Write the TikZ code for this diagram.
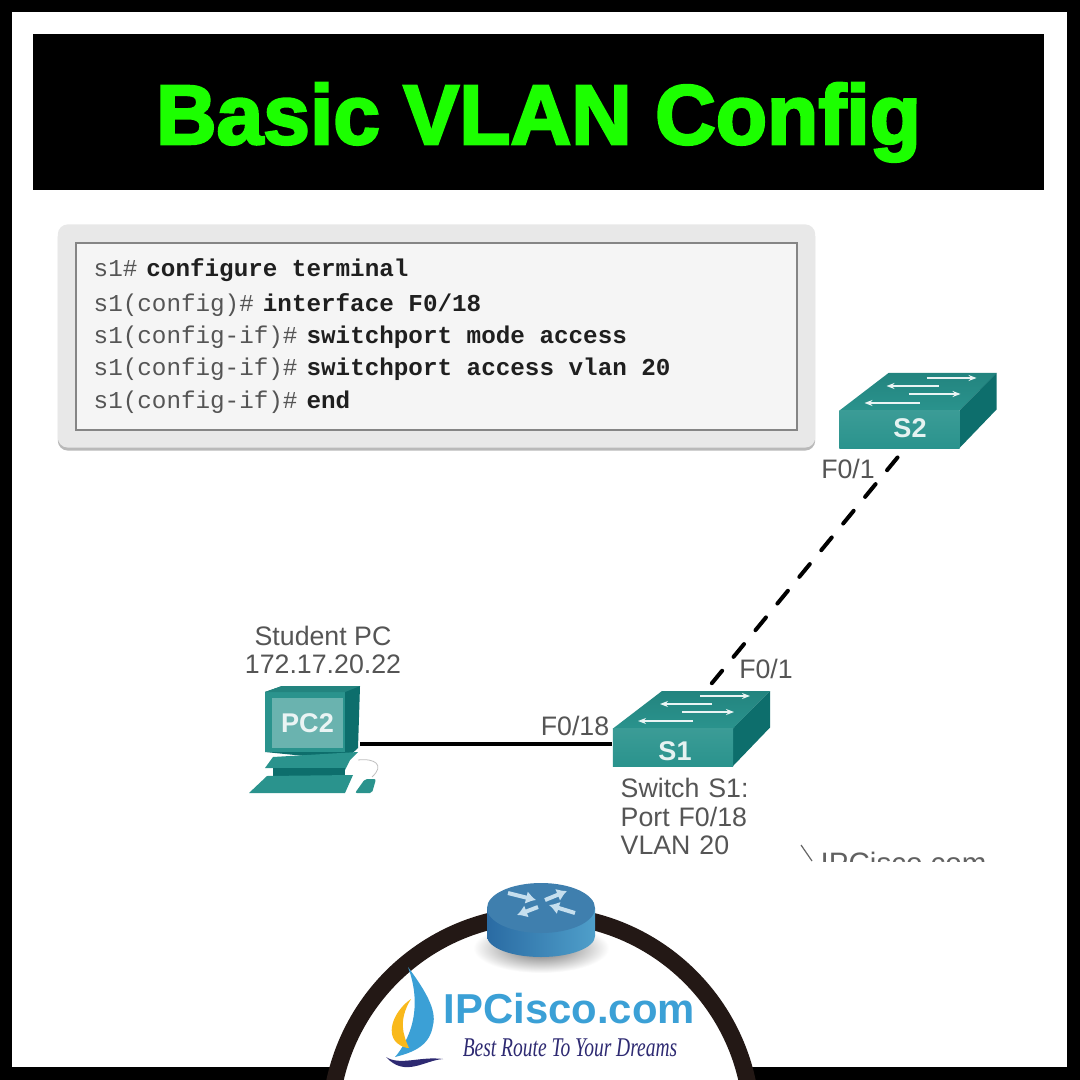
\documentclass[tikz,border=0pt]{standalone}
\usepackage{fontspec}
\setmainfont{Liberation Sans}
\newfontfamily\titlefont[FakeBold=3,FakeStretch=0.995]{Liberation Sans}
\newfontfamily\consolefont{Liberation Mono}
\newfontfamily\sloganfont[FakeStretch=0.72]{Liberation Serif}
\usetikzlibrary{arrows.meta,shadows}
\definecolor{titlegreen}{HTML}{1CFF00}
\definecolor{tealfront}{HTML}{2A938D}
\definecolor{tealtop}{HTML}{23847F}
\definecolor{tealside}{HTML}{0D6E6C}
\definecolor{labelgray}{HTML}{555555}
\definecolor{ringblack}{HTML}{231815}
\definecolor{logoblue}{HTML}{3BA0D6}
\definecolor{logoyellow}{HTML}{F9B91B}
\definecolor{logonavy}{HTML}{2E2A72}
\definecolor{routerlight}{HTML}{C6DFEE}
\definecolor{routertop}{HTML}{3F7FAE}
\definecolor{routerleft}{HTML}{2A6BA3}
\definecolor{routerright}{HTML}{4F9FCA}
\begin{document}
\begin{tikzpicture}[x=0.01cm, y=-0.01cm,
    rotulo/.style={text=labelgray, font=\fontsize{7.6}{8.1}\selectfont, inner sep=0pt},
    switchface/.style={minimum width=1.2cm, minimum height=0.375cm, inner sep=0pt,
      top color=tealfront!92!white, bottom color=tealfront},
    devicetext/.style={text=white!88!tealfront, font=\fontsize{7.7}{8}\selectfont\bfseries, inner sep=0pt},
    switcharrow/.style={-{Stealth[length=0.08cm,width=0.06cm]}, draw=white!90!tealfront, line width=0.015cm},
    routerarrow/.style={-{Latex[length=0.1cm,width=0.13cm]}, draw=routerlight, line width=0.04cm}]
        \useasboundingbox (0,0) rectangle (1080,1080);

        % Moldura e titulo
        \fill[black] (0,0) rectangle (1080,1080);
        \fill[white] (12,12) rectangle (1067,1067);
        \node[fill=black, minimum width=10.11cm, minimum height=1.56cm, inner sep=0pt,
          text=titlegreen, font=\titlefont\fontsize{24}{30}\selectfont\bfseries] (title) at (538.5,112) {\raisebox{-0.32cm}[0pt][0pt]{Basic VLAN Config}};

        % Console
        \node[fill=black!9, rounded corners=0.1cm, minimum width=7.57cm, minimum height=2.23cm,
          drop shadow={shadow xshift=0cm, shadow yshift=-0.03cm, opacity=0.55}] (console) at (436.5,336) {};
        \node[draw=black!48, line width=0.025cm, fill=black!4, minimum width=7.21cm, minimum height=1.87cm] (cli) at (436.5,336.5) {};
        \foreach \nlin/\yb/\prompt/\cmd in {1/277/s1\#/{configure terminal},
            2/312/s1(config)\#/{interface F0/18},
            3/344/s1(config-if)\#/{switchport mode access},
            4/376/s1(config-if)\#/{switchport access vlan 20},
            5/409/s1(config-if)\#/{end}}
          \node[anchor=base west, inner sep=0pt, font=\consolefont\fontsize{6.9}{8}\selectfont] (cmd\nlin) at (93,\yb)
            {\textcolor{labelgray}{\prompt}\hspace{0.09cm}\textcolor{black!88}{\bfseries\cmd}};

        % Switches
        \foreach \nome/\xc/\yc/\tx/\ty in {S1/673/747.5/0.02cm/-0.04cm, S2/899.5/429.5/0.105cm/0.01cm} {
          \shade[top color=tealtop, bottom color=tealfront] (\xc-60,\yc-19) -- (\xc-11,\yc-56.5) -- (\xc+97,\yc-56.5) -- (\xc+60,\yc-19) -- cycle;
          \fill[tealside] (\xc+60,\yc-19) -- (\xc+97,\yc-56.5) -- (\xc+97,\yc-20) -- (\xc+60,\yc+18.5) -- cycle;
          \node[switchface, label={[devicetext, xshift=\tx, yshift=\ty]center:\nome}] (\nome) at (\xc,\yc) {};
          \draw[switcharrow] (\xc+27,\yc-51.5) -- (\xc+77,\yc-51.5);
          \draw[switcharrow] (\xc+39,\yc-43.5) -- (\xc-13,\yc-43.5);
          \draw[switcharrow] (\xc+9,\yc-35.5) -- (\xc+61,\yc-35.5);
          \draw[switcharrow] (\xc+20,\yc-26.5) -- (\xc-35,\yc-26.5);
        }

        % PC
        \fill[tealside] (265,692) -- (282,686) -- (360,686) -- (358,748) -- (345,760) -- (265,752) -- cycle;
        \fill[tealfront] (265,692) -- (345,692) -- (345,752) -- (265,752) -- cycle;
        \fill[tealtop] (265,692) -- (282,686) -- (360,686) -- (345,692) -- cycle;
        \fill[tealfront] (273,757) -- (358,752) -- (350,760) -- (345,770) -- (265,768) -- cycle;
        \fill[tealside] (273,768) -- (345,768) -- (345,776) -- (273,776) -- cycle;
        \fill[tealfront] (267,776) -- (353,775) -- (345,793) -- (249,793) -- cycle;
        \fill[tealfront, rounded corners=0.02cm] (365,779) -- (376,779) -- (372,793) -- (355,793) -- cycle;
        \draw[black!25, line width=0.008cm] (358,760) .. controls (375,758) and (385,765) .. (372,777);
        \node[fill=white!30!tealfront, minimum width=0.71cm, minimum height=0.5cm, inner sep=0pt,
          text=white!90!tealfront, font=\fontsize{7.7}{8}\selectfont\bfseries] (PC2) at (307.5,723) {PC2};
        \coordinate (PC2porta) at (360,744);

        % Ligacoes
        \draw[black, line width=0.035cm] (PC2porta) -- (PC2porta -| S1.west);
        \draw[black, line width=0.04cm, line cap=round, dash pattern=on 0.165cm off 0.18cm, shorten <=0.11cm, shorten >=0.58cm]
          ([xshift=0.05cm]S2.south) -- ([xshift=0.02cm]S1.north);

        % Rotulos
        \node[rotulo, align=center] (pclabel) at (323,650) {Student PC\\172.17.20.22};
        \node[rotulo] (portS1a) at (575,726) {F0/18};
        \node[rotulo] (portS1b) at (766,669) {F0/1};
        \node[rotulo] (portS2) at (848,469) {F0/1};
        \node[rotulo, anchor=base west, text width=1.6cm, align=left] (s1info) at (620,797) {\baselineskip=0.29cm Switch S1:\\Port F0/18\\VLAN 20};

        % Marca cortada
        \begin{scope}
          \clip (795,840) rectangle (990,861);
          \draw[black!60, line width=0.012cm] (801,845) -- (812,861);
          \node[anchor=base west, inner sep=0pt, text=black!62, font=\fontsize{8.4}{9}\selectfont] (wmark) at (820,873) {IPCisco.com};
        \end{scope}

        % Arco
        \draw[ringblack, fill=white, line width=0.17cm] (541,1126) circle (211);

        % Roteador
        \shade[inner color=black!60, outer color=white] (541,948) ellipse [x radius=68, y radius=25];
        \shade[left color=routerleft, right color=routerright] (487,908) -- (487,936) arc[start angle=180, end angle=360, x radius=54, y radius=-21] -- (595,908) -- cycle;
        \fill[routertop] (541,908) ellipse [x radius=54, y radius=25];
        \draw[routerarrow] (508,893) -- (536,900);
        \draw[routerarrow] (545,900) -- (567,891);
        \draw[routerarrow] (538,907) -- (517,915);
        \draw[routerarrow] (575,913) -- (549,905);

        % Logo
        \fill[logoblue] (408,967) .. controls (425,990) and (437,1010) .. (433,1025) .. controls (430,1045) and (415,1052) .. (395,1057) .. controls (408,1042) and (424,1010) .. (408,967) -- cycle;
        \fill[logoyellow] (411,999) .. controls (395,1010) and (385,1032) .. (397,1043) .. controls (402,1047) and (406,1048) .. (409,1048) .. controls (403,1035) and (398,1020) .. (411,999) -- cycle;
        \fill[logonavy] (386,1057) .. controls (400,1066) and (420,1056) .. (443,1059) .. controls (425,1060) and (405,1078) .. (386,1057) -- cycle;
        \node[anchor=base west, inner sep=0pt, text=logoblue, font=\fontsize{11.9}{13}\selectfont\bfseries] (logotext) at (443,1023) {IPCisco.com};
        \node[inner sep=0pt, text=logonavy, font=\sloganfont\itshape\fontsize{7.7}{8}\selectfont] (slogan) at (570,1048) {Best Route To Your Dreams};
      \end{tikzpicture}
\end{document}
